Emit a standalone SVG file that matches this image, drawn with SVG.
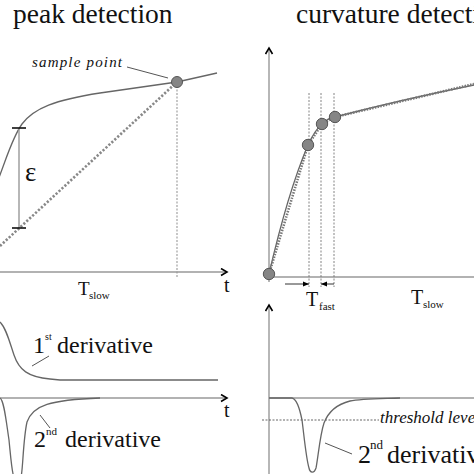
<svg xmlns="http://www.w3.org/2000/svg" width="474" height="474" viewBox="0 0 474 474">
<style>
text{font-family:"Liberation Serif","Times New Roman",serif;fill:#111}
.title{font-size:27.5px}
.lbl{font-size:24px}
.sub{font-size:11px}
.it{font-style:italic}
.axis{stroke:#999;stroke-width:1.4;fill:none}
.curve{stroke:#666;stroke-width:1.3;fill:none}
.dot{stroke:#888;stroke-width:2.6;stroke-dasharray:2.2 1.8;fill:none}
.guide{stroke:#777;stroke-width:0.9;stroke-dasharray:2 1.5;fill:none}
.lead{stroke:#555;stroke-width:1;fill:none}
.pt{fill:#858585;stroke:#555;stroke-width:1}
.tick{stroke:#111;stroke-width:1.6}
.dim{stroke:#333;stroke-width:1;fill:none}
</style>
<defs>
<marker id="chev" markerWidth="10" markerHeight="10" refX="7" refY="4" orient="auto" markerUnits="userSpaceOnUse">
<path d="M1,0.5 L7,4 L1,7.5" fill="none" stroke="#000" stroke-width="1.6"/>
</marker>
<marker id="tri" markerWidth="8" markerHeight="8" refX="6" refY="3" orient="auto" markerUnits="userSpaceOnUse">
<path d="M0,0.5 L6,3 L0,5.5 Z" fill="#000"/>
</marker>
</defs>

<g id="titles">
<text class="title" x="13" y="23">peak detection</text>
<text class="title" x="296" y="23">curvature detection</text>
</g>

<g id="connectors">
<path class="axis" d="M0,272 L227,272" marker-end="url(#chev)"/>
<path class="axis" d="M0,398 L227,398" marker-end="url(#chev)"/>
<path class="axis" d="M269,282 L269,48" marker-end="url(#chev)"/>
<path class="axis" d="M269,277 L474,277"/>
<path class="axis" d="M269,474 L269,305" marker-end="url(#chev)"/>
<path class="axis" d="M269,398 L474,398"/>
<path class="guide" d="M177,86 L177,278" style="stroke:#999;stroke-width:1.1"/>
<path class="guide" d="M309,93 L309,287"/>
<path class="guide" d="M321,93 L321,287"/>
<path class="guide" d="M334,93 L334,287"/>
<path class="guide" d="M262,420 L379,420" style="stroke:#555"/>
<path class="lead" d="M127,67 L168,78"/>
<path class="lead" d="M32,366 L49,356"/>
<path class="lead" d="M40,415 L50,428"/>
<path class="lead" d="M325,443 L352,454"/>
<path class="dim" d="M285,284 L309,284" marker-end="url(#tri)"/>
<path class="dim" d="M334,284 L321,284" marker-end="url(#tri)"/>
</g>

<g id="peak-curve">
<path class="curve" d="M-2,180 C6,160 12,138 22,124 C34,108 55,100 100,93 L177,82 L217,73"/>
<path class="dot" d="M0,246 L177,82"/>
</g>

<g id="epsilon">
<line x1="19" y1="128" x2="19" y2="228" stroke="#999" stroke-width="1.4"/>
<line class="tick" x1="12" y1="128" x2="26" y2="128"/>
<line class="tick" x1="12" y1="228" x2="26" y2="228"/>
<text x="25" y="181" style="font-size:27px">ε</text>
</g>

<g id="sample-point">
<circle class="pt" cx="177" cy="82" r="5.5"/>
<text class="it" x="32" y="67" style="font-size:15px" textLength="90" lengthAdjust="spacing">sample point</text>
</g>

<g id="tslow-left">
<text x="78" y="295" style="font-size:19px">T</text>
<text class="sub" x="89" y="299">slow</text>
<text x="224" y="292" style="font-size:20px">t</text>
</g>

<g id="first-derivative">
<path class="curve" d="M0,322 C6,328 9,340 14,355 C19,370 28,377 50,379 L60,380 L218,380"/>
<text class="lbl" x="33" y="353">1</text>
<text class="sub" x="45" y="340" style="font-size:10px">st</text>
<text class="lbl" x="57" y="353">derivative</text>
</g>

<g id="second-derivative-left">
<path class="curve" d="M0,398 C4,400 6,420 9,440 C11,460 12,474 14,477 L21,477 C23,470 23,440 27,422 C33,405 50,400 100,398"/>
<text class="lbl" x="34" y="447">2</text>
<text class="sub" x="46" y="435">nd</text>
<text class="lbl" x="65" y="447">derivative</text>
<text x="224" y="417" style="font-size:20px">t</text>
</g>

<g id="curvature-curve">
<path class="curve" d="M269,274 Q288,192 308,145 Q315,130 322,124 Q328,118 335,117 Q400,100 474,85"/>
<path class="dot" d="M269,274 L308,145 L322,124 L335,117 L474,84" style="stroke:#777;stroke-dasharray:1.5 1.3"/>
</g>

<g id="sample-points-right">
<circle class="pt" cx="269" cy="274" r="5.7"/>
<circle class="pt" cx="308" cy="145" r="5.7"/>
<circle class="pt" cx="322" cy="124" r="5.7"/>
<circle class="pt" cx="335" cy="117" r="5.7"/>
</g>

<g id="tfast">
<text x="306" y="306" style="font-size:20px">T</text>
<text class="sub" x="319" y="310">fast</text>
</g>

<g id="tslow-right">
<text x="411" y="304" style="font-size:20px">T</text>
<text class="sub" x="423" y="308">slow</text>
</g>

<g id="second-derivative-right">
<path class="curve" d="M269,398 L292,398 C297,399 300,410 302,420 C304,435 306,458 309,468 C310,473 314,474 316,468 C318,458 320,435 324,423 C329,410 338,404 350,401 C360,399 370,399 400,398"/>
<text class="it" x="380" y="423" style="font-size:17px">threshold level</text>
<text x="358" y="463" style="font-size:26px">2</text>
<text x="370" y="449" style="font-size:13px">nd</text>
<text x="387" y="463" style="font-size:26px">derivative</text>
</g>
</svg>
